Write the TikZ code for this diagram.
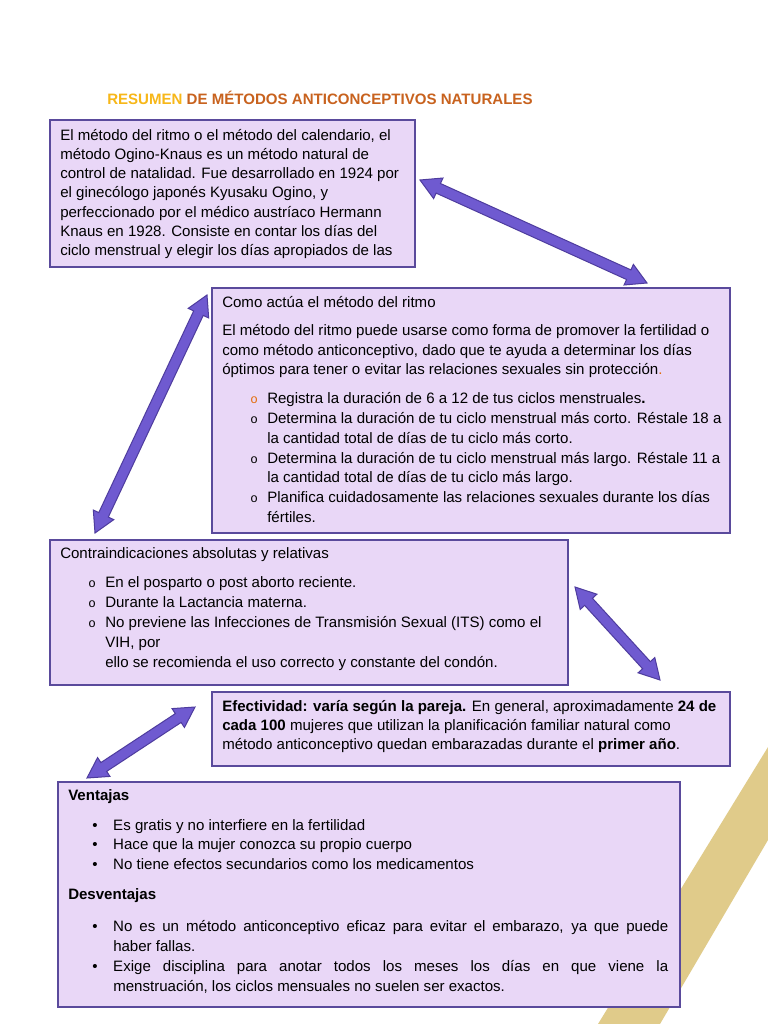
\documentclass[tikz,border=0pt]{standalone}
\usepackage{fontspec}
\setmainfont{Liberation Sans}
\newfontfamily\bmono{Liberation Mono}
\usetikzlibrary{calc,fit}
\definecolor{boxfill}{HTML}{E9D7F7}
\definecolor{boxline}{HTML}{5A4A9C}
\definecolor{arrfill}{HTML}{6F5AD0}
\definecolor{arrline}{HTML}{4E3C9E}
\definecolor{tgold}{HTML}{F7B719}
\definecolor{torange}{HTML}{C8621E}
\definecolor{bandtan}{HTML}{E0CB8A}
\definecolor{bulorange}{HTML}{E36C0A}
\newdimen\pxu \pxu=0.796875pt
\def\arhl{16pt}\def\arhw{9pt}\def\arsw{4.2pt}
\newcommand{\bitem}[3]{\par\leftskip=#1\hangindent=#2\hangafter=1\noindent\makebox[#2][l]{#3}}
\newcommand{\ob}{{\bmono\fontsize{10}{10}\selectfont o}}
\newcommand{\dblarrow}[2]{%
  \draw[dblarr] (#1) -- ($(#1)!\arhl!(#2)!\arhw!90:(#2)$) -- ($(#1)!\arhl!(#2)!\arsw!90:(#2)$)
   -- ($(#2)!\arhl!(#1)!\arsw!-90:(#1)$) -- ($(#2)!\arhl!(#1)!\arhw!-90:(#1)$) -- (#2)
   -- ($(#2)!\arhl!(#1)!\arhw!90:(#1)$) -- ($(#2)!\arhl!(#1)!\arsw!90:(#1)$)
   -- ($(#1)!\arhl!(#2)!\arsw!-90:(#2)$) -- ($(#1)!\arhl!(#2)!\arhw!-90:(#2)$) -- cycle;}
\begin{document}
\begin{tikzpicture}[x=0.796875pt,y=-0.796875pt,
  box/.style={draw=boxline, fill=boxfill, line width=1.6pt, inner sep=0pt, rectangle},
  txt/.style={anchor=base west, inner sep=0pt, font=\fontsize{12}{15.4}\selectfont},
  dblarr/.style={draw=arrline, fill=arrfill, line width=0.8pt, line join=miter}]
\useasboundingbox (0,0) rectangle (768,1024);
\fill[white] (0,0) rectangle (768,1024);
% decorative band
\fill[bandtan] (598,1024) -- (768,747) -- (768,840) -- (660,1024) -- cycle;

% title
\node[txt, font=\bfseries\fontsize{12}{14}\selectfont] (title) at (107,105)
  {\textcolor{tgold}{RESUMEN} \textcolor{torange}{DE MÉTODOS ANTICONCEPTIVOS NATURALES}};

% boxes
\node[box, fit={(50,120) (415,267)}] (b1) {};
\node[box, fit={(212,288) (730,533)}] (b2) {};
\node[box, fit={(50,540) (568,685)}] (b3) {};
\node[box, fit={(212,692) (730,766)}] (b4) {};
\node[box, fit={(58,782) (680,1007)}] (b5) {};

% box texts
\node[txt] (t1) at (60,140) {\parbox[t]{355\pxu}{\raggedright
El método del ritmo o el método del calendario, el\\
método Ogino-Knaus es un método natural de\\
control de natalidad. Fue desarrollado en 1924 por\\
el ginecólogo japonés Kyusaku Ogino, y\\
perfeccionado por el médico austríaco Hermann\\
Knaus en 1928. Consiste en contar los días del\\
ciclo menstrual y elegir los días apropiados de las}};

\node[txt] (t2) at (222,307) {\parbox[t]{510\pxu}{\raggedright\parskip=0pt
Como actúa el método del ritmo\par\vspace{7.5pt}
El método del ritmo puede usarse como forma de promover la fertilidad o\newline
como método anticonceptivo, dado que te ayuda a determinar los días\newline
óptimos para tener o evitar las relaciones sexuales sin protección\textcolor{bulorange}{.}\par\vspace{7.5pt}
\baselineskip=15.8pt
\bitem{28\pxu}{17\pxu}{\textcolor{bulorange}{\ob}}Registra la duración de 6 a 12 de tus ciclos menstruales\textbf{.}
\bitem{28\pxu}{17\pxu}{\ob}Determina la duración de tu ciclo menstrual más corto. Réstale 18 a\newline
la cantidad total de días de tu ciclo más corto.
\bitem{28\pxu}{17\pxu}{\ob}Determina la duración de tu ciclo menstrual más largo. Réstale 11 a\newline
la cantidad total de días de tu ciclo más largo.
\bitem{28\pxu}{17\pxu}{\ob}Planifica cuidadosamente las relaciones sexuales durante los días\newline
fértiles.\par}};

\node[txt] (t3) at (60,558) {\parbox[t]{505\pxu}{\raggedright\parskip=0pt
Contraindicaciones absolutas y relativas\par\vspace{8pt}
\baselineskip=15.9pt
\bitem{28\pxu}{17\pxu}{\ob}En el posparto o post aborto reciente.
\bitem{28\pxu}{17\pxu}{\ob}Durante la Lactancia materna.
\bitem{28\pxu}{17\pxu}{\ob}No previene las Infecciones de Transmisión Sexual (ITS) como el\newline
VIH, por\newline
ello se recomienda el uso correcto y constante del condón.\par}};

\node[txt] (t4) at (222,711) {\parbox[t]{505\pxu}{\raggedright
\textbf{Efectividad: varía según la pareja.} En general, aproximadamente \textbf{24 de}\\
\textbf{cada 100} mujeres que utilizan la planificación familiar natural como\\
método anticonceptivo quedan embarazadas durante el \textbf{primer año}.}};

\node[txt] (t5) at (68,800) {\parbox[t]{600\pxu}{\parskip=0pt\tolerance=10000\hyphenpenalty=10000
\noindent\textbf{Ventajas}\par\vspace{8pt}
\baselineskip=15.9pt
\bitem{24\pxu}{21\pxu}{•}Es gratis y no interfiere en la fertilidad
\bitem{24\pxu}{21\pxu}{•}Hace que la mujer conozca su propio cuerpo
\bitem{24\pxu}{21\pxu}{•}No tiene efectos secundarios como los medicamentos
\par\leftskip=0pt\vspace{8pt}
\noindent\textbf{Desventajas}\par\vspace{9pt}
\bitem{24\pxu}{21\pxu}{•}No es un método anticonceptivo eficaz para evitar el embarazo, ya que puede\linebreak
haber fallas.
\bitem{24\pxu}{21\pxu}{•}Exige disciplina para anotar todos los meses los días en que viene la\linebreak
menstruación, los ciclos mensuales no suelen ser exactos.\par}};

% connector end points
\coordinate (a1s) at (420,180);  \coordinate (a1e) at (647,283);
\coordinate (a2s) at (207,295);  \coordinate (a2e) at (95,533);
\coordinate (a3s) at (575,587);  \coordinate (a3e) at (660,680);
\coordinate (a4s) at (195,707);  \coordinate (a4e) at (87,778);
\dblarrow{a1s}{a1e}
\dblarrow{a2s}{a2e}
\dblarrow{a3s}{a3e}
\dblarrow{a4s}{a4e}
\end{tikzpicture}
\end{document}
